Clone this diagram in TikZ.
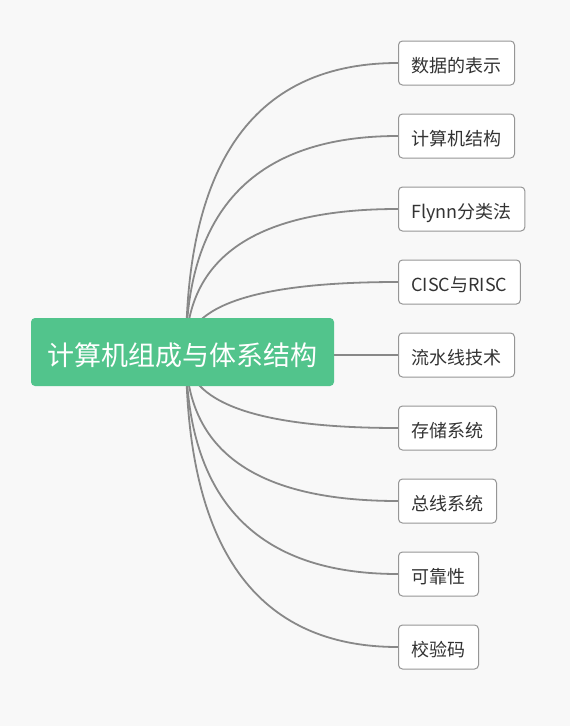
\documentclass[tikz,border=0pt]{standalone}
\usepackage{fontspec}
\setmainfont{Noto Sans CJK SC}
\usetikzlibrary{positioning, backgrounds, calc}

\definecolor{rootgreen}{RGB}{82,196,140}
\definecolor{linegray}{RGB}{136,136,136}
\definecolor{boxgray}{RGB}{150,150,150}
\definecolor{textgray}{RGB}{51,51,51}
\definecolor{bggray}{RGB}{248,248,248}

\begin{document}
\begin{tikzpicture}[
    x=1pt, y=-1pt,
    root/.style={rectangle, rounded corners=4pt, fill=rootgreen, minimum width=303pt, minimum height=68pt, text height=27pt, text depth=1pt, text=white, font=\fontsize{27}{30}\selectfont},
    topic/.style={draw=boxgray, line width=1pt, rectangle, rounded corners=4pt, fill=white, anchor=west, minimum height=44pt, inner xsep=13pt, text height=19pt, text depth=1pt, text=textgray, font=\fontsize{18}{20}\selectfont},
    branch/.style={draw=linegray, line width=1.8pt}
]
\useasboundingbox (0,0) rectangle (570,726);

% Nodes
\coordinate (hub) at (186,352);
\node (root) [root] at (182.5,352) {计算机组成与体系结构};

\node (data) [topic] at (398,63) {数据的表示};
\node (arch) [topic] at (398,136) {计算机结构};
\node (flynn) [topic] at (398,209) {Flynn分类法};
\node (cisc) [topic] at (398,282) {CISC与RISC};
\node (pipe) [topic] at (398,355) {流水线技术};
\node (mem) [topic] at (398,428) {存储系统};
\node (bus) [topic] at (398,501) {总线系统};
\node (rel) [topic] at (398,574) {可靠性};
\node (ecc) [topic] at (398,647) {校验码};

% Branches
\begin{scope}[on background layer]
\fill[bggray] (0,0) rectangle (570,726);
\foreach \t in {data, arch, flynn, cisc, mem, bus, rel, ecc}
    \draw [branch] (hub) .. controls ($(hub)!0.667!(hub |- \t.west)$) and ($(\t.west)!0.667!(hub |- \t.west)$) .. (\t.west);
\draw [branch] (root.east |- pipe.west) -- (pipe.west);
\end{scope}

\end{tikzpicture}
\end{document}
